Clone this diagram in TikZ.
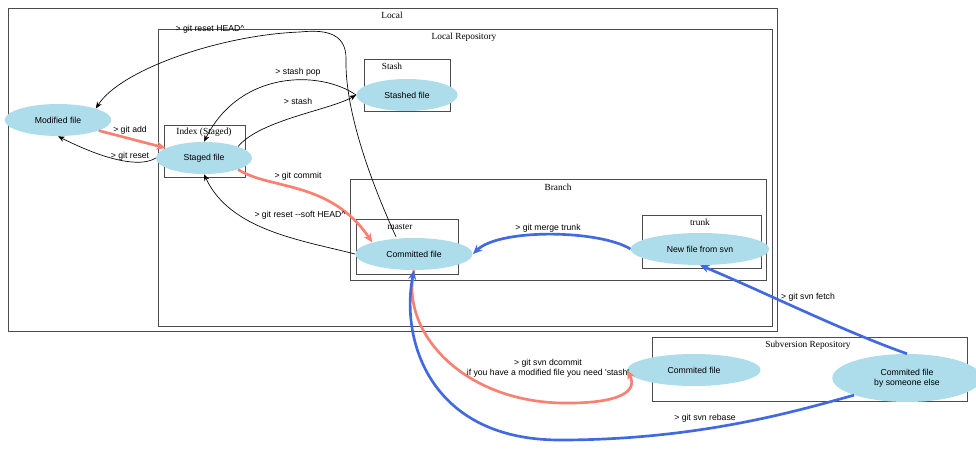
\documentclass[tikz,border=0pt]{standalone}
\usepackage{fontspec}
\setmainfont{Liberation Serif}
\newfontfamily\sansf{Liberation Sans}
\usetikzlibrary{arrows.meta}
\definecolor{nodeblue}{HTML}{ADDCEA}
\definecolor{salm}{HTML}{FA8072}
\definecolor{royal}{HTML}{4169E1}
\begin{document}
\begin{tikzpicture}[x=0.75pt,y=-0.75pt,
 cl/.style={draw=black!70,line width=0.5pt},
 cllab/.style={font=\fontsize{7}{8}\selectfont},
 nd/.style={ellipse,fill=nodeblue,inner sep=0pt,font=\sansf\fontsize{6.5}{7.5}\selectfont,align=center},
 lab/.style={font=\sansf\fontsize{6.5}{7.5}\selectfont,align=center},
 e/.style={-{Stealth[length=5pt,width=4pt]},line width=0.5pt},
 es/.style={-{Stealth[length=7pt,width=6pt]},line width=2pt,draw=salm},
 eb/.style={-{Stealth[length=7pt,width=6pt]},line width=2pt,draw=royal}]
\usetikzlibrary{shapes.geometric}
\useasboundingbox (0,0) rectangle (976,450);
\draw[cl] (8,8) rectangle (777,331); \node[cllab] at (392,15) {Local};
\draw[cl] (158,29) rectangle (772,326); \node[cllab] at (464,37) {Local Repository};
\draw[cl] (364,59) rectangle (450,111); \node[cllab] at (392,66) {Stash};
\draw[cl] (164,125) rectangle (245,177); \node[cllab] at (204,132) {Index (Staged)};
\draw[cl] (350,179) rectangle (766,280); \node[cllab] at (558,187) {Branch};
\draw[cl] (356,219) rectangle (458,274); \node[cllab] at (400,227) {master};
\draw[cl] (642,215) rectangle (761,268); \node[cllab] at (700,222) {trunk};
\draw[cl] (652,337) rectangle (967,401); \node[cllab] at (808,345) {Subversion Repository};
\node[nd,minimum width=80,minimum height=24] (mod) at (58,120) {Modified file};
\node[nd,minimum width=76,minimum height=24] (stashed) at (407,95) {Stashed file};
\node[nd,minimum width=72,minimum height=24] (staged) at (204,158) {Staged file};
\node[nd,minimum width=88,minimum height=24] (comm) at (414,254) {Committed file};
\node[nd,minimum width=104,minimum height=24] (newf) at (700,249) {New file from svn};
\node[nd,minimum width=100,minimum height=24] (svnc) at (694,370) {Commited file};
\node[nd,minimum width=112,minimum height=36] (other) at (907,378) {Commited file\\by someone else};
% edges
\draw[e] (comm.north) ++(-18,-1) .. controls (370,180) and (345,110) .. (346,60) .. controls (347,30) and (320,30) .. (300,32) .. controls (220,35) and (120,70) .. (mod.north east);
\node[lab] at (210,29) {> git reset HEAD\textasciicircum};
\draw[es] (mod) -- (staged);
\node[lab] at (130,130) {> git add};
\draw[e] (staged.west) .. controls (140,168) and (105,160) .. (mod.south);
\node[lab] at (130,156) {> git reset};
\draw[e] (stashed.west) .. controls (320,70) and (240,70) .. (staged.north);
\node[lab] at (298,72) {> stash pop};
\draw[e] (staged.north east) .. controls (260,120) and (330,110) .. (stashed.west);
\node[lab] at (298,101) {> stash};
\draw[es] (staged.south east) .. controls (270,190) and (330,180) .. (comm.north west);
\node[lab] at (298,176) {> git commit};
\draw[e] (comm.west) .. controls (300,240) and (230,230) .. (staged.south);
\node[lab] at (300,215) {> git reset --soft HEAD\textasciicircum};
\draw[eb] (newf.west) .. controls (600,230) and (500,228) .. (comm.east);
\node[lab] at (548,228) {> git merge trunk};
\draw[eb] (other.north) .. controls (840,330) and (760,290) .. (newf.south);
\node[lab] at (808,297) {> git svn fetch};
\draw[es] (comm.south) .. controls (400,330) and (460,400) .. (560,403) .. controls (610,404) and (640,395) .. (svnc.west);
\node[lab] at (548,368) {> git svn dcommit\\if you have a modified file you need 'stash'};
\draw[eb] (other.south west) .. controls (800,410) and (700,440) .. (560,440) .. controls (430,440) and (400,340) .. (comm.south);
\node[lab] at (705,418) {> git svn rebase};
\end{tikzpicture}
\end{document}
